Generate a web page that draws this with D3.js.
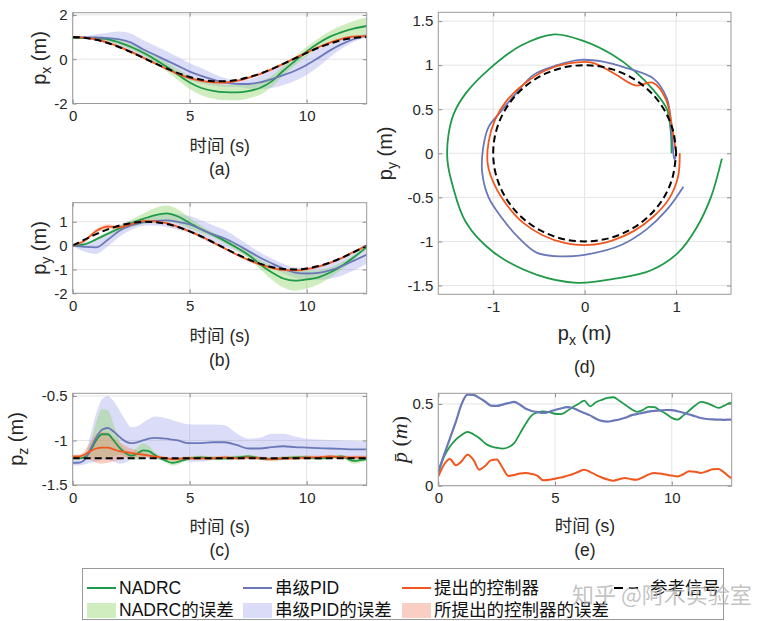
<!DOCTYPE html>
<html><head><meta charset="utf-8">
<script src="https://cdn.jsdelivr.net/npm/d3@7"></script>
<style>body{margin:0;background:#fff}svg{display:block}</style>
</head><body>
<svg id="c" width="768" height="621"></svg>
<script>
// ---------------- DATA ----------------
const tA = [0,0.5,1,1.5,2,2.5,3,3.5,4,4.5,5,5.5,6,6.5,7,7.5,8,8.5,9,9.5,10,10.5,11,11.5,12,12.57];
const refX = [1.0,0.969,0.878,0.732,0.540,0.315,0.071,-0.178,-0.416,-0.628,-0.801,-0.924,-0.990,-0.994,-0.936,-0.820,-0.654,-0.446,-0.211,0.036,0.284,0.515,0.709,0.862,0.960,1.0];
const refY = [0,0.247,0.479,0.682,0.841,0.949,0.997,0.984,0.909,0.778,0.598,0.382,0.141,-0.108,-0.351,-0.572,-0.757,-0.895,-0.978,-0.999,-0.959,-0.858,-0.706,-0.509,-0.279,0.0];
const nadrcX = [0.95,0.95,0.94,0.9,0.75,0.55,0.3,0.0,-0.33,-0.7,-1.05,-1.3,-1.43,-1.49,-1.5,-1.44,-1.3,-1.0,-0.52,-0.08,0.35,0.72,1.02,1.22,1.38,1.5];
const nadrcY = [0,0.05,0.26,0.5,0.72,0.93,1.12,1.27,1.35,1.22,0.95,0.68,0.45,0.2,-0.08,-0.38,-0.78,-1.12,-1.38,-1.47,-1.42,-1.33,-1.13,-0.85,-0.5,-0.06];
const pidX = [1.0,0.99,0.98,0.95,0.9,0.75,0.45,0.2,-0.05,-0.3,-0.56,-0.75,-0.92,-1.05,-1.11,-1.12,-1.05,-0.9,-0.72,-0.52,-0.26,0.06,0.4,0.68,0.9,1.08];
const pidY = [0,-0.05,-0.07,0.25,0.62,0.85,0.97,1.04,1.06,1.0,0.89,0.68,0.47,0.3,0.06,-0.22,-0.5,-0.74,-0.96,-1.13,-1.17,-1.14,-1.04,-0.86,-0.64,-0.38];
const propX = [1.0,0.97,0.89,0.75,0.56,0.33,0.08,-0.18,-0.43,-0.66,-0.85,-0.98,-1.05,-1.06,-0.98,-0.84,-0.67,-0.46,-0.21,0.05,0.30,0.54,0.75,0.92,1.02,1.04];
const propY = [0,0.2,0.61,0.8,0.77,0.9,1.03,1.02,0.94,0.79,0.6,0.38,0.13,-0.12,-0.37,-0.6,-0.79,-0.93,-1.02,-1.04,-0.99,-0.88,-0.72,-0.52,-0.27,0.0];
const nadrcXErr = [0.02,0.03,0.05,0.08,0.1,0.12,0.12,0.15,0.2,0.25,0.3,0.33,0.35,0.35,0.35,0.33,0.3,0.25,0.2,0.2,0.2,0.22,0.25,0.3,0.35,0.4];
const pidXErr = [0.02,0.05,0.15,0.25,0.35,0.4,0.42,0.42,0.42,0.4,0.38,0.35,0.28,0.2,0.15,0.2,0.3,0.4,0.45,0.45,0.45,0.4,0.3,0.2,0.12,0.08];
const propXErr = [0.02,0.03,0.04,0.05,0.05,0.05,0.05,0.05,0.05,0.05,0.05,0.05,0.05,0.05,0.05,0.05,0.05,0.05,0.05,0.05,0.05,0.05,0.05,0.05,0.05,0.05];
const nadrcYErr = [0.02,0.03,0.05,0.08,0.1,0.15,0.22,0.3,0.33,0.3,0.22,0.15,0.1,0.1,0.12,0.15,0.2,0.3,0.38,0.42,0.38,0.3,0.22,0.15,0.1,0.08];
const pidYErr = [0.03,0.2,0.28,0.28,0.25,0.2,0.15,0.2,0.28,0.33,0.35,0.38,0.38,0.35,0.3,0.25,0.22,0.2,0.2,0.22,0.25,0.3,0.35,0.4,0.4,0.38];
const propYErr = [0.02,0.04,0.08,0.1,0.08,0.05,0.05,0.05,0.05,0.05,0.05,0.05,0.05,0.05,0.05,0.05,0.05,0.05,0.05,0.05,0.05,0.05,0.05,0.05,0.05,0.05];

const tC = [0,0.25,0.5,0.75,1,1.25,1.5,1.75,2,2.25,2.5,2.75,3,3.25,3.5,3.75,4,4.25,4.5,4.75,5,5.5,6,6.5,7,7.5,8,8.5,9,9.5,10,10.5,11,11.5,12,12.57];
const refZt = [0,12.57];
const refZ = [-1.2,-1.2];
const pidZ = [-1.25,-1.25,-1.22,-1.1,-0.97,-0.88,-0.86,-0.9,-0.96,-1.01,-1.03,-1.02,-1.0,-0.98,-0.97,-0.975,-0.98,-0.99,-1.0,-1.02,-1.03,-1.03,-1.02,-1.02,-1.05,-1.09,-1.09,-1.075,-1.065,-1.075,-1.08,-1.085,-1.09,-1.095,-1.1,-1.1];
const pidZErr = [0.03,0.03,0.05,0.15,0.27,0.34,0.36,0.34,0.3,0.24,0.18,0.18,0.2,0.22,0.24,0.24,0.23,0.22,0.21,0.21,0.21,0.21,0.2,0.19,0.13,0.11,0.12,0.15,0.14,0.12,0.1,0.095,0.095,0.095,0.095,0.09];
const nadrcZ = [-1.2,-1.2,-1.19,-1.12,-1.0,-0.93,-0.93,-1.0,-1.08,-1.14,-1.17,-1.15,-1.11,-1.12,-1.16,-1.2,-1.23,-1.25,-1.24,-1.22,-1.2,-1.19,-1.2,-1.2,-1.19,-1.18,-1.2,-1.21,-1.2,-1.19,-1.19,-1.2,-1.19,-1.18,-1.23,-1.21];
const nadrcZErr = [0.01,0.01,0.02,0.08,0.2,0.28,0.27,0.18,0.08,0.04,0.04,0.07,0.08,0.06,0.03,0.02,0.02,0.03,0.03,0.02,0.02,0.02,0.02,0.02,0.02,0.02,0.02,0.02,0.02,0.02,0.02,0.02,0.02,0.02,0.03,0.02];
const propZ = [-1.18,-1.18,-1.16,-1.12,-1.09,-1.08,-1.08,-1.1,-1.12,-1.13,-1.14,-1.15,-1.16,-1.17,-1.18,-1.19,-1.2,-1.21,-1.21,-1.2,-1.2,-1.2,-1.2,-1.19,-1.2,-1.19,-1.2,-1.21,-1.2,-1.2,-1.19,-1.19,-1.18,-1.19,-1.19,-1.19];
const propZErr = [0.02,0.02,0.04,0.1,0.16,0.18,0.17,0.13,0.1,0.07,0.05,0.04,0.03,0.02,0.02,0.02,0.02,0.02,0.02,0.02,0.02,0.02,0.02,0.02,0.02,0.02,0.02,0.02,0.02,0.02,0.02,0.02,0.02,0.02,0.02,0.02];

const tE = [0,0.25,0.5,0.75,1,1.25,1.5,1.75,2,2.25,2.5,2.75,3,3.25,3.5,3.75,4,4.25,4.5,4.75,5,5.25,5.5,5.75,6,6.25,6.5,6.75,7,7.25,7.5,7.75,8,8.25,8.5,8.75,9,9.25,9.5,9.75,10,10.25,10.5,10.75,11,11.25,11.5,11.75,12,12.25,12.5,12.57];
const propE = [.057,.13,.163,.125,.15,.19,.16,.098,.12,.155,.16,.11,.06,.065,.075,.078,.072,.06,.033,.036,.043,.05,.06,.07,.085,.098,.085,.066,.05,.038,.031,.04,.047,.04,.037,.05,.068,.078,.074,.068,.062,.057,.07,.088,.085,.078,.088,.1,.102,.08,.051,.046];
const nadrcE = [.078,.18,.24,.282,.31,.329,.315,.292,.26,.24,.232,.227,.235,.26,.32,.38,.43,.448,.455,.45,.44,.438,.455,.48,.5,.52,.485,.51,.525,.537,.541,.52,.495,.47,.452,.462,.482,.48,.46,.44,.415,.404,.43,.46,.49,.512,.505,.49,.476,.49,.506,.508];
const pidE = [.088,.19,.29,.39,.5,.557,.555,.537,.515,.49,.488,.496,.505,.512,.495,.47,.457,.45,.445,.452,.463,.472,.48,.475,.46,.445,.43,.41,.396,.392,.398,.405,.415,.43,.438,.445,.453,.458,.46,.463,.462,.455,.446,.435,.425,.414,.408,.405,.404,.403,.404,.404];

const timeTicks = [0,5,10];
const yTicksA = [-2,0,2];
const yTicksB = [-2,-1,0,1];
const yTicksC = [-1.5,-1,-0.5];
const xTicksD = [-1,0,1];
const yTicksD = [-1.5,-1,-0.5,0,0.5,1,1.5];
const yTicksE = [0,0.5];

const legendLines = ["NADRC","串级PID","提出的控制器","参考信号"];
const legendBands = ["NADRC的误差","串级PID的误差","所提出的控制器的误差"];

// ---------------- STYLE ----------------
const svg = d3.select('#c');
const FONT = "'Liberation Sans', Arial, 'Noto Sans CJK SC', sans-serif";
const COL = {green:'#1f9a48', blue:'#6b78b8', orange:'#f0571e'};
const BAND = {green:['#8fd46a',0.42], blue:['#9aa2ec',0.36], orange:['#f2886a',0.4]};
const defs = svg.append('defs');

function panel(p){
  const x = d3.scaleLinear().domain(p.xd).range([p.L,p.R]);
  const y = d3.scaleLinear().domain(p.yd).range([p.B,p.T]);
  const g = svg.append('g');
  const grid = g.append('g').attr('stroke','#e4e4e4').attr('stroke-width',1);
  grid.selectAll('.gx').data(p.xt).join('line').attr('x1',d=>x(d)).attr('x2',d=>x(d)).attr('y1',p.T).attr('y2',p.B);
  grid.selectAll('.gy').data(p.yt).join('line').attr('y1',d=>y(d)).attr('y2',d=>y(d)).attr('x1',p.L).attr('x2',p.R);
  defs.append('clipPath').attr('id','clip-'+p.id).append('rect')
    .attr('x',p.L).attr('y',p.T).attr('width',p.R-p.L).attr('height',p.B-p.T);
  const plot = g.append('g').attr('clip-path',`url(#clip-${p.id})`);
  const axes = svg.append('g');
  const styleAx = (sel, lab)=>{
    sel.select('.domain').remove();
    sel.attr('font-family',FONT).attr('font-size',15);
    sel.selectAll('line').attr('stroke','#8c8c8c');
    if(lab) sel.selectAll('text').attr('fill','#262626'); else sel.selectAll('text').remove();
  };
  axes.append('g').attr('transform',`translate(0,${p.B})`)
    .call(d3.axisBottom(x).tickValues(p.xt).tickSize(-4).tickPadding(7).tickFormat(d=>String(d))).call(s=>styleAx(s,true));
  axes.append('g').attr('transform',`translate(0,${p.T})`)
    .call(d3.axisTop(x).tickValues(p.xt).tickSize(-4)).call(s=>styleAx(s,false));
  axes.append('g').attr('transform',`translate(${p.L},0)`)
    .call(d3.axisLeft(y).tickValues(p.yt).tickSize(-4).tickPadding(5).tickFormat(d=>String(d))).call(s=>styleAx(s,true));
  axes.append('g').attr('transform',`translate(${p.R},0)`)
    .call(d3.axisRight(y).tickValues(p.yt).tickSize(-4)).call(s=>styleAx(s,false));
  axes.append('rect').attr('x',p.L).attr('y',p.T).attr('width',p.R-p.L).attr('height',p.B-p.T)
    .attr('fill','none').attr('stroke','#9a9a9a').attr('stroke-width',1);
  return {x,y,plot,axes};
}

function band(P, t, v, e, key){
  P.plot.append('path')
    .datum(t.map((tt,i)=>[tt,v[i],e[i]]))
    .attr('d', d3.area().x(d=>P.x(d[0])).y0(d=>P.y(d[1]-d[2])).y1(d=>P.y(d[1]+d[2])).curve(d3.curveMonotoneX))
    .attr('fill',BAND[key][0]).attr('fill-opacity',BAND[key][1]).attr('stroke','none');
}
function tline(P, t, v, color, w, dash){
  P.plot.append('path')
    .datum(t.map((tt,i)=>[tt,v[i]]))
    .attr('d', d3.line().x(d=>P.x(d[0])).y(d=>P.y(d[1])).curve(d3.curveMonotoneX))
    .attr('fill','none').attr('stroke',color).attr('stroke-width',w)
    .attr('stroke-dasharray',dash||null).attr('stroke-linejoin','round');
}
function xyline(P, xs, ys, color, w, dash){
  P.plot.append('path')
    .datum(xs.map((xx,i)=>[xx,ys[i]]))
    .attr('d', d3.line().x(d=>P.x(d[0])).y(d=>P.y(d[1])).curve(d3.curveCatmullRom.alpha(0.5)))
    .attr('fill','none').attr('stroke',color).attr('stroke-width',w)
    .attr('stroke-dasharray',dash||null).attr('stroke-linejoin','round');
}
function txt(x,y,s,size,anchor){
  return svg.append('text').attr('x',x).attr('y',y).attr('font-family',FONT)
    .attr('font-size',size).attr('fill','#262626').attr('text-anchor',anchor||'middle').text(s);
}
function pLabel(x,y,sub,rot){
  const t = svg.append('text').attr('font-family',FONT).attr('font-size',20).attr('fill','#262626')
    .attr('text-anchor','middle')
    .attr('transform', rot ? `translate(${x},${y}) rotate(-90)` : `translate(${x},${y})`);
  t.append('tspan').text('p');
  t.append('tspan').attr('font-size',14).attr('dy',5).text(sub);
  t.append('tspan').attr('dy',-5).text(' (m)');
}

// ---------------- PANEL A ----------------
const A = panel({id:'a',L:72.7,R:366.7,T:12.7,B:103.5,xd:[0,12.566],yd:[-2,2.1],xt:timeTicks,yt:yTicksA});
band(A,tA,pidX,pidXErr,'blue'); band(A,tA,nadrcX,nadrcXErr,'green'); band(A,tA,propX,propXErr,'orange');
tline(A,tA,nadrcX,COL.green,1.8); tline(A,tA,pidX,COL.blue,1.8); tline(A,tA,propX,COL.orange,1.8);
tline(A,tA,refX,'#000',2,'7,4');
pLabel(46,58,'x',true);
txt(219.7,152,'时间 (s)',17.5); txt(219.7,175,'(a)',17.5);

// ---------------- PANEL B ----------------
const B = panel({id:'b',L:72.7,R:366.7,T:202.7,B:293.3,xd:[0,12.566],yd:[-2,1.8],xt:timeTicks,yt:yTicksB});
band(B,tA,pidY,pidYErr,'blue'); band(B,tA,nadrcY,nadrcYErr,'green'); band(B,tA,propY,propYErr,'orange');
tline(B,tA,nadrcY,COL.green,1.8); tline(B,tA,pidY,COL.blue,1.8); tline(B,tA,propY,COL.orange,1.8);
tline(B,tA,refY,'#000',2,'7,4');
pLabel(46,248,'y',true);
txt(219.7,342,'时间 (s)',17.5); txt(219.7,366,'(b)',17.5);

// ---------------- PANEL C ----------------
const Cp = panel({id:'c',L:72.7,R:366.7,T:393.3,B:485,xd:[0,12.566],yd:[-1.5,-0.47],xt:timeTicks,yt:yTicksC});
band(Cp,tC,pidZ,pidZErr,'blue'); band(Cp,tC,nadrcZ,nadrcZErr,'green'); band(Cp,tC,propZ,propZErr,'orange');
tline(Cp,tC,nadrcZ,COL.green,1.8); tline(Cp,tC,pidZ,COL.blue,1.8); tline(Cp,tC,propZ,COL.orange,1.8);
tline(Cp,refZt,refZ,'#000',2,'7,4');
pLabel(23,439,'z',true);
txt(219.7,533,'时间 (s)',17.5); txt(219.7,556,'(c)',17.5);

// ---------------- PANEL D ----------------
const D = panel({id:'d',L:438.3,R:731,T:12.3,B:294.3,xd:[-1.6,1.6],yd:[-1.6,1.6],xt:xTicksD,yt:yTicksD});
xyline(D,nadrcX,nadrcY,COL.green,1.8); xyline(D,pidX,pidY,COL.blue,1.8); xyline(D,propX,propY,COL.orange,1.8);
xyline(D,refX,refY,'#000',2,'7,4');
pLabel(392,153.3,'y',true);
pLabel(584.7,340,'x',false);
txt(584.7,373,'(d)',17.5);

// ---------------- PANEL E ----------------
const E = panel({id:'e',L:438.3,R:731.7,T:393.3,B:485.7,xd:[0,12.566],yd:[0,0.565],xt:timeTicks,yt:yTicksE});
tline(E,tE,nadrcE,COL.green,1.8); tline(E,tE,pidE,COL.blue,2.2); tline(E,tE,propE,COL.orange,2);
{
  const t = svg.append('text').attr('font-family',"'Liberation Serif','DejaVu Serif',serif").attr('font-size',22)
    .attr('fill','#262626').attr('text-anchor','middle').attr('transform','translate(407,439.5) rotate(-90)');
  t.append('tspan').attr('font-style','italic').text('p\u0304');
  t.append('tspan').text('\u00a0(');
  t.append('tspan').attr('font-style','italic').text('m');
  t.append('tspan').text(')');
}
txt(585,532,'时间 (s)',17.5); txt(585,556,'(e)',17.5);

// ---------------- LEGEND ----------------
const lg = svg.append('g');
lg.append('rect').attr('x',82.5).attr('y',568.5).attr('width',641).attr('height',51).attr('fill','#fff').attr('stroke','#9a9a9a');
const lineX = [87,243,402,614];
const lineKeys = ['green','blue','orange','ref'];
lineKeys.forEach((k,i)=>{
  lg.append('line').attr('x1',lineX[i]).attr('x2',lineX[i]+29).attr('y1',588).attr('y2',588)
    .attr('stroke', k==='ref' ? '#000' : COL[k]).attr('stroke-width',2)
    .attr('stroke-dasharray', k==='ref' ? '9,6' : null);
  lg.append('text').attr('x',lineX[i]+32+(k==='ref'?4:0)).attr('y',594).attr('font-family',FONT).attr('font-size',17.5)
    .attr('fill','#111').text(legendLines[i]);
});
['green','blue','orange'].forEach((k,i)=>{
  lg.append('rect').attr('x',lineX[i]).attr('y',603).attr('width',29).attr('height',15)
    .attr('fill',BAND[k][0]).attr('fill-opacity',BAND[k][1]);
  lg.append('text').attr('x',lineX[i]+32).attr('y',616).attr('font-family',FONT).attr('font-size',17.5)
    .attr('fill','#111').text(legendBands[i]);
});
// watermark present in the reference image
svg.append('text').attr('x',572).attr('y',603).attr('font-family',"'Noto Sans CJK SC',sans-serif")
  .attr('font-size',22).attr('fill','#b0b0b0').attr('fill-opacity',0.75).text('知乎 @阿木实验室');
</script>
</body></html>
